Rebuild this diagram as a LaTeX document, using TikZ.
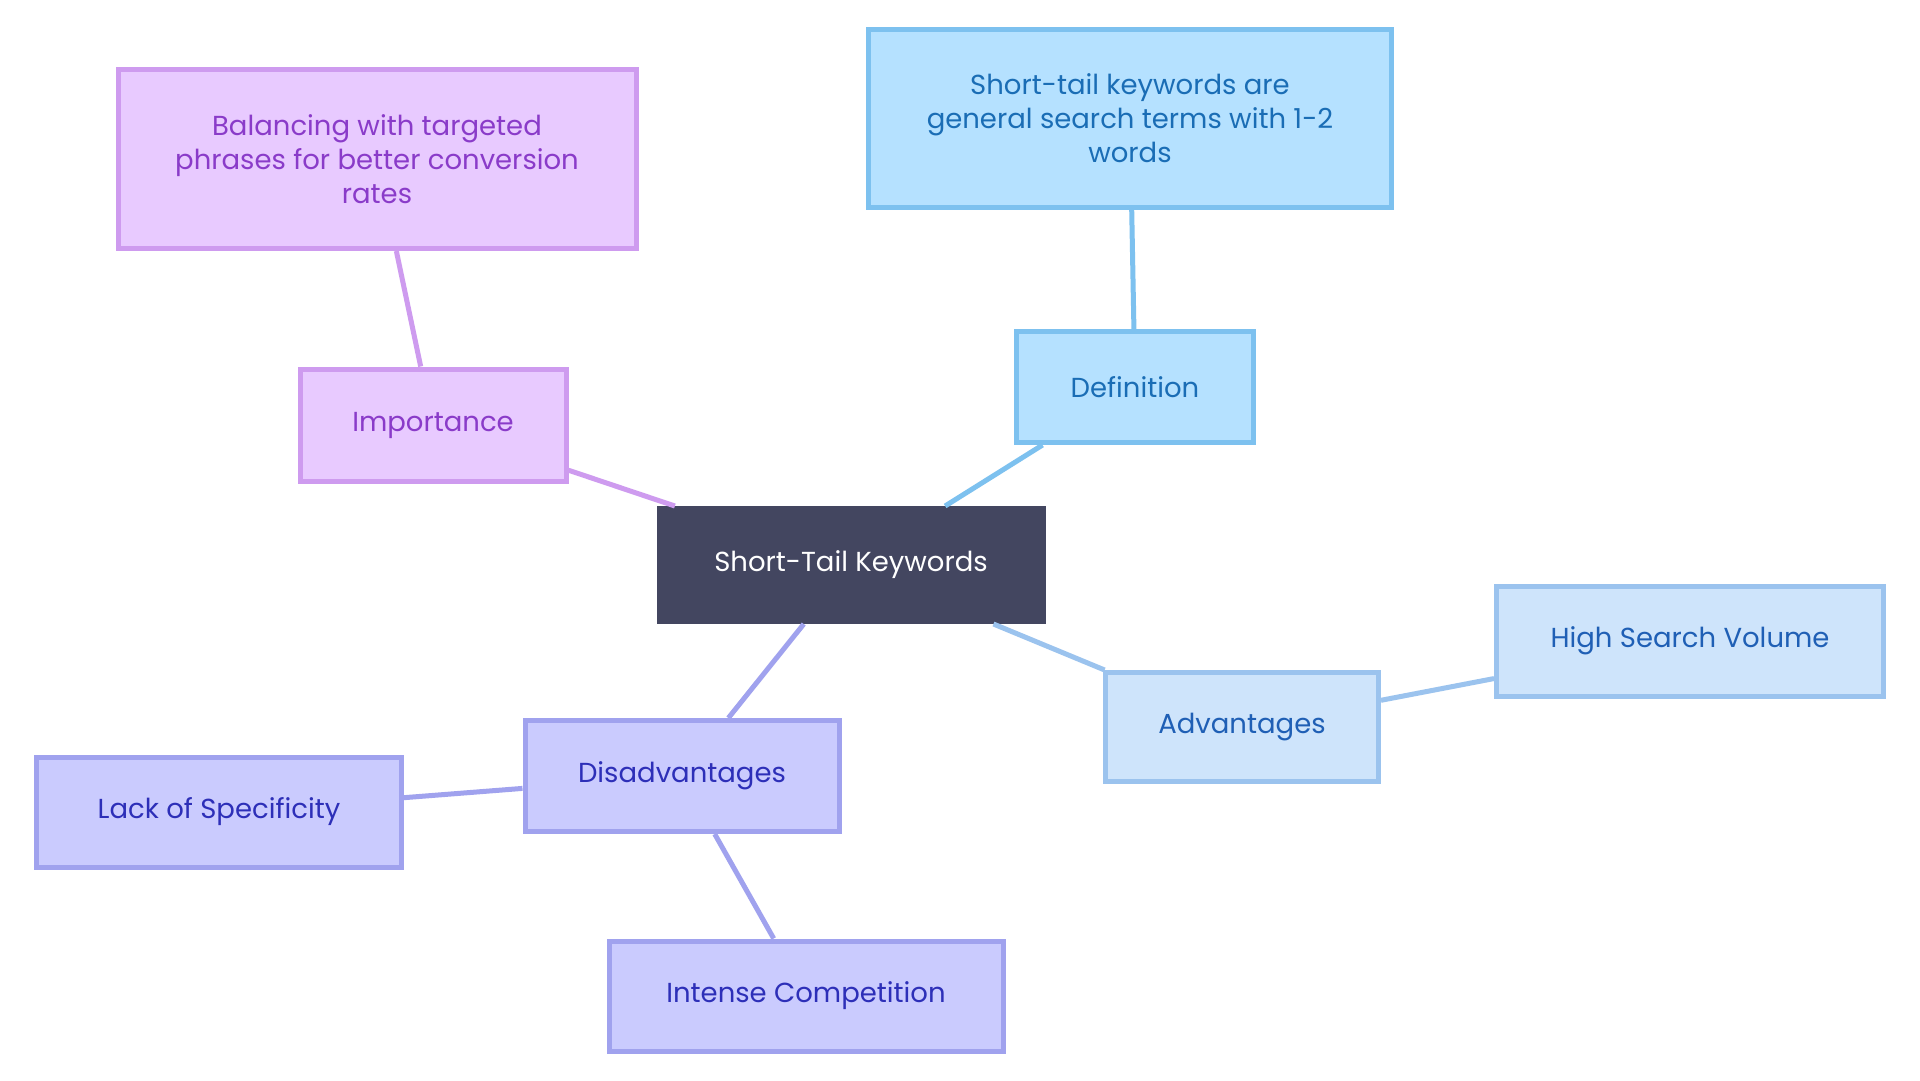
\documentclass[tikz,border=0pt]{standalone}
\usepackage{fontspec}
\setmainfont{Poppins}
\definecolor{cfill}{HTML}{434660}
\definecolor{deffill}{HTML}{B5E1FF}
\definecolor{defline}{HTML}{7DC1EF}
\definecolor{deftext}{HTML}{1A6DB5}
\definecolor{impfill}{HTML}{E8CAFF}
\definecolor{impline}{HTML}{CE9BEF}
\definecolor{imptext}{HTML}{8A3BC9}
\definecolor{advfill}{HTML}{CEE4FB}
\definecolor{advline}{HTML}{9BC3EE}
\definecolor{advtext}{HTML}{1F5FB5}
\definecolor{disfill}{HTML}{CACBFE}
\definecolor{disline}{HTML}{A0A2EE}
\definecolor{distext}{HTML}{2D2FB8}
\begin{document}
\begin{tikzpicture}[x=1pt,y=-1pt,
  box/.style={rectangle, line width=5pt, align=center, inner sep=0pt,
    font=\fontsize{27.5}{34}\selectfont},
  centerbox/.style={box, fill=cfill, draw=cfill, text=white},
  defbox/.style={box, fill=deffill, draw=defline, text=deftext},
  impbox/.style={box, fill=impfill, draw=impline, text=imptext},
  advbox/.style={box, fill=advfill, draw=advline, text=advtext},
  disbox/.style={box, fill=disfill, draw=disline, text=distext},
  link/.style={line width=5pt}
]
\useasboundingbox[fill=white] (0,0) rectangle (1920,1080);

\node[centerbox, minimum width=384pt, minimum height=113pt] (c) at (851,565) {Short-Tail Keywords};
\node[defbox, minimum width=237pt, minimum height=111pt] (def) at (1135,387) {Definition};
\node[defbox, minimum width=523pt, minimum height=178pt] (deft) at (1130,118) {Short-tail keywords are\\general search terms with 1-2\\words};
\node[impbox, minimum width=266pt, minimum height=112pt] (imp) at (433,425) {Importance};
\node[impbox, minimum width=518pt, minimum height=179pt] (impt) at (377,159) {Balancing with targeted\\phrases for better conversion\\rates};
\node[advbox, minimum width=273pt, minimum height=109pt] (adv) at (1242,727) {Advantages};
\node[advbox, minimum width=387pt, minimum height=110pt] (hsv) at (1690,641) {High Search Volume};
\node[disbox, minimum width=314pt, minimum height=111pt] (dis) at (682,776) {Disadvantages};
\node[disbox, minimum width=365pt, minimum height=110pt] (lack) at (219,812) {Lack of Specificity};
\node[disbox, minimum width=394pt, minimum height=110pt] (int) at (806,996) {Intense Competition};

\draw[link, draw=defline] (c) -- (def);
\draw[link, draw=defline] (def) -- (deft);
\draw[link, draw=impline] (imp) -- (c);
\draw[link, draw=impline] (imp) -- (impt);
\draw[link, draw=disline] (c) -- (dis);
\draw[link, draw=disline] (dis) -- (lack);
\draw[link, draw=disline] (dis) -- (int);
\draw[link, draw=advline] (c) -- (adv);
\draw[link, draw=advline] (adv) -- (hsv);
\end{tikzpicture}
\end{document}
